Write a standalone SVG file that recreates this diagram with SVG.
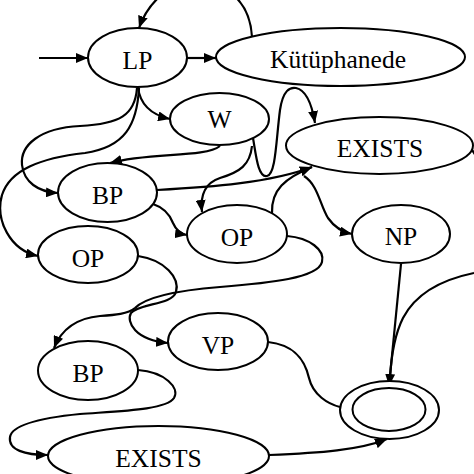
<svg xmlns="http://www.w3.org/2000/svg" width="474" height="474" viewBox="0 0 474 474">
<defs>
<marker id="ah" markerUnits="userSpaceOnUse" markerWidth="12" markerHeight="10" refX="12" refY="5" orient="auto">
<path d="M0,0 L12,5 L0,10 z" fill="#000"/>
</marker>
</defs>
<style>
.n ellipse{fill:#fff;stroke:#000;stroke-width:2}
.n text{font-family:"Liberation Serif","Times New Roman",serif;font-size:25.5px;text-anchor:middle;fill:#000}
#edges path{fill:none;stroke:#000;stroke-width:2.2}
#edges path.a{marker-end:url(#ah)}
</style>
<rect width="474" height="474" fill="#fff"/>
<g id="edges">
<path class="a" d="M39,58 L88,58"/>
<path class="a" d="M252,37 C250,0 225,-18 195,-18 C168,-18 147,5 139,28"/>
<path class="a" d="M187,58 L216,58"/>
<path class="a" d="M138,87 C140,105 152,115 170,119"/>
<path class="a" d="M137,88 C135,115 120,124 80,126 C40,128 20,145 22,165 C24,182 38,192 58,193"/>
<path class="a" d="M139,88 C137,125 125,147 85,153 C40,158 10,170 2,195 C-5,220 10,250 38,256"/>
<path class="a" d="M220,146 C205,158 150,152 110,163"/>
<path class="a" d="M253,138 C256,155 258,178 267,176 C276,174 276,140 280,110 C283,90 290,87 296,88 C306,90 312,105 315,123"/>
<path class="a" d="M252,146 C250,165 240,172 220,178 C205,183 200,195 202,212"/>
<path class="a" d="M157,190 C210,187 270,183 312,167"/>
<path class="a" d="M153,204 C165,208 170,215 173,223 C176,230 180,234 187,235"/>
<path class="a" d="M272,213 C271,190 285,178 312,167"/>
<path class="a" d="M304,176 C318,185 320,205 328,218 C335,228 342,232 352,234"/>
<path class="a" d="M287,236 C310,238 325,250 322,262 C318,278 270,283 220,287 C170,291 145,298 135,308 C128,314 115,315 100,316 C78,318 62,328 54,348"/>
<path class="a" d="M138,256 C165,260 180,278 176,292 C172,305 140,303 131,313 C126,322 135,340 168,343"/>
<path class="a" d="M138,370 C165,372 180,388 174,398 C166,410 120,411 80,414 C40,418 12,425 10,437 C8,450 25,455 48,455"/>
<path class="a" d="M269,455 C320,453 360,450 387,439"/>
<path d="M268,342 C295,345 305,360 309,378 C313,395 328,404 340,407"/>
<path class="a" d="M401,264 L389,386"/>
<path d="M472,150 C495,180 495,265 474,273 C440,280 415,295 403,318 C393,338 391,360 390,378"/>
</g>
<g id="LP" class="n"><ellipse cx="137.5" cy="57.5" rx="49.5" ry="29.5"/><text x="137.5" y="68.5">LP</text></g>
<g id="Kutuphanede" class="n"><ellipse cx="340.5" cy="57" rx="124.5" ry="29"/><text x="338" y="68">Kütüphanede</text></g>
<g id="W" class="n"><ellipse cx="219.5" cy="119" rx="49.5" ry="26"/><text x="219.5" y="128">W</text></g>
<g id="EXISTS1" class="n"><ellipse cx="379.5" cy="145.5" rx="93.5" ry="28.5"/><text x="380" y="157">EXISTS</text></g>
<g id="BP1" class="n"><ellipse cx="107.5" cy="192.5" rx="49.5" ry="29.5"/><text x="107.5" y="204">BP</text></g>
<g id="OP1" class="n"><ellipse cx="237" cy="234" rx="50" ry="29"/><text x="237" y="246">OP</text></g>
<g id="NP" class="n"><ellipse cx="401" cy="234" rx="49" ry="29"/><text x="401" y="245">NP</text></g>
<g id="OP2" class="n"><ellipse cx="88" cy="254.5" rx="50" ry="28.5"/><text x="88" y="266.5">OP</text></g>
<g id="VP" class="n"><ellipse cx="218" cy="341.5" rx="50" ry="28.5"/><text x="218" y="353.5">VP</text></g>
<g id="BP2" class="n"><ellipse cx="88" cy="370.5" rx="50" ry="29.5"/><text x="88" y="382">BP</text></g>
<g id="final" class="n"><ellipse cx="389.5" cy="410" rx="49.5" ry="29"/><ellipse cx="389" cy="409.5" rx="36.5" ry="21.5"/></g>
<g id="EXISTS2" class="n"><ellipse cx="158.5" cy="456" rx="110.5" ry="30"/><text x="158.5" y="467">EXISTS</text></g>
</svg>
